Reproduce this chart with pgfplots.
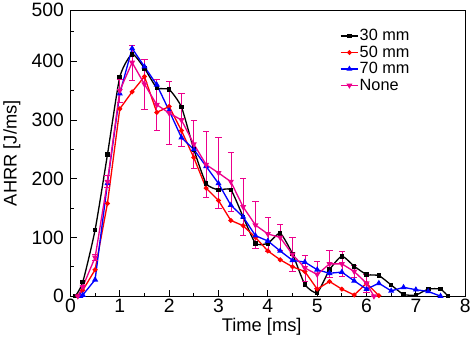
\documentclass[border=0pt]{standalone}
\usepackage{fontspec}
\setmainfont{Liberation Sans}
\usepackage{pgfplots}
\pgfplotsset{compat=1.18}
\begin{document}
\begin{tikzpicture}
\begin{axis}[
  scale only axis,
  width=388pt, height=281pt,
  xmin=0, xmax=8, ymin=0, ymax=487,
  xtick={0,1,...,8},
  minor xtick={0.5,1.5,...,7.5},
  ytick={0,100,200,300,400,487},
  yticklabels={0,100,200,300,400,500},
  minor ytick={50,150,250,350,450},
  tick align=inside,
  xtick pos=bottom, ytick pos=left,
  major tick length=6pt, minor tick length=3.5pt,
  tick style={black, line width=0.9pt},
  axis line style={line width=1pt},
  /pgf/number format/assume math mode=true,
  ticklabel style={font=\fontsize{19}{21}\selectfont},
  xticklabel style={yshift=1pt},
  yticklabel style={xshift=-3pt},
  label style={font=\fontsize{18}{20}\selectfont},
  xlabel={Time [ms]},
  ylabel={AHRR [J/ms]},
  xlabel style={yshift=1pt, xshift=-6pt},
  ylabel style={yshift=4pt},
  legend style={draw=none, fill=none, at={(rel axis cs:0.68,0.94)}, anchor=north west,
    font=\fontsize{16}{17}\selectfont, row sep=1.5pt, inner sep=1pt,
    nodes={inner sep=1pt}},
  legend image post style={line width=1.2pt},
  legend cell align=left,
  every axis plot/.append style={line width=1.3pt},
]
\addplot[black, mark=square*, mark size=1.6pt, smooth, tension=0.35] coordinates {
(0.1,0) (0.25,24) (0.5,113) (0.75,241) (1.0,373) (1.25,412) (1.5,388) (1.75,355)
(2.0,352) (2.25,322) (2.5,250) (2.75,192) (3.0,181) (3.25,181) (3.5,135) (3.75,90)
(4.0,90) (4.25,107) (4.5,72) (4.75,20) (5.0,6) (5.25,45) (5.5,68) (5.75,51)
(6.0,37) (6.25,35) (6.5,19) (6.75,3) (7.0,2) (7.25,12) (7.5,12) (7.65,0)};
\addlegendentry{30 mm}
\addplot[red, mark=*, mark size=1.7pt] coordinates {
(0.15,0) (0.25,10) (0.5,45) (0.75,158) (1.0,319) (1.25,348) (1.5,374) (1.75,313)
(2.0,323) (2.25,282) (2.5,236) (2.75,184) (3.0,163) (3.25,129) (3.5,120) (3.75,100)
(4.0,77) (4.25,62) (4.5,50) (4.75,42) (5.0,12) (5.25,25) (5.5,12) (5.75,2)
(6.0,22) (6.25,1)};
\addlegendentry{50 mm}
\addplot[blue, mark=triangle*, mark size=2.2pt] coordinates {
(0.2,0) (0.25,2) (0.5,28) (0.75,192) (1.0,345) (1.25,422) (1.5,391) (1.75,360)
(2.0,316) (2.25,270) (2.5,250) (2.75,221) (3.0,192) (3.25,155) (3.5,135) (3.75,103)
(4.0,94) (4.25,77) (4.5,61) (4.75,58) (5.0,45) (5.25,39) (5.5,41) (5.75,26)
(6.0,12) (6.25,22) (6.5,9) (6.75,15) (7.0,11) (7.25,8) (7.5,0)};
\addlegendentry{70 mm}
\addplot[magenta, mark=triangle*, mark options={rotate=180}, mark size=2.2pt,
  error bars/.cd, y dir=both, y explicit,
  error bar style={magenta, line width=0.6pt},
  error mark options={magenta, line width=0.6pt, mark size=3pt, rotate=90}]
  coordinates {
(0.15,0) +- (0,0)
(0.25,16) +- (0,0)
(0.5,66) +- (0,5)
(0.75,195) +- (0,10)
(1.0,350) +- (0,20)
(1.25,398) +- (0,30)
(1.5,361) +- (0,42)
(1.75,326) +- (0,43)
(2.0,312) +- (0,54)
(2.25,300) +- (0,45)
(2.5,259) +- (0,41)
(2.75,224) +- (0,56)
(3.0,210) +- (0,60)
(3.25,195) +- (0,50)
(3.5,152) +- (0,49)
(3.75,121) +- (0,40)
(4.0,106) +- (0,29)
(4.25,100) +- (0,22)
(4.5,71) +- (0,29)
(4.75,48) +- (0,22)
(5.0,37) +- (0,23)
(5.25,55) +- (0,23)
(5.5,55) +- (0,22)
(5.75,42) +- (0,10)
(6.0,22) +- (0,16)
(6.15,0) +- (0,0)};
\addlegendentry{None}
\end{axis}
\end{tikzpicture}
\end{document}
